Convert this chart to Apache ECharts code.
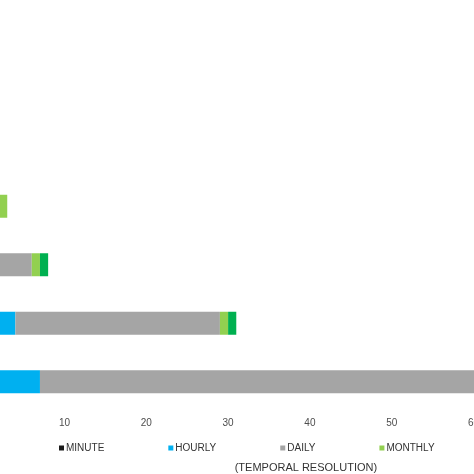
<!DOCTYPE html>
<html>
<head>
<meta charset="utf-8">
<script src="https://cdn.jsdelivr.net/npm/echarts@6/dist/echarts.min.js"></script>
<style>
  html, body { margin: 0; padding: 0; background: #fff; overflow: hidden; width: 474px; height: 474px; }
  /* the reference is a crop: left part of the plot (category names, value 0) is off-screen */
  #main { position: absolute; left: -60px; top: 0; width: 760px; height: 474px; }
</style>
</head>
<body>
<div id="main"></div>
<script>
  // categories, bottom to top (names are outside the visible crop)
  var categories = ['A', 'B', 'C', 'D'];
  var minute  = [0, 0, 0, 0];
  var hourly  = [7, 4, 0, 0];
  var daily   = [60, 25, 6, 2];
  var monthly = [0, 1, 1, 1];
  var yearly  = [0, 1, 1, 0];
  var seriesNames = ['MINUTE', 'HOURLY', 'DAILY', 'MONTHLY', 'YEARLY'];
  var colors = ['#1a1a1a', '#00b0f0', '#a5a5a5', '#92d050', '#00b050'];

  var chart = echarts.init(document.getElementById('main'));

  // 堆叠条形图的一项
  var itemBar = function (name, data) {
    return {
      name: name,
      type: 'bar',
      stack: 'total',
      barWidth: 23,
      data: data
    }
  };

  var option = {
    animation: false,
    color: colors,
    textStyle: { fontFamily: '"Liberation Sans", Arial, sans-serif' },
    grid: {
      left: 42.7,
      right: 62.9,
      top: 177,
      bottom: 63,
      outerBoundsMode: 'none'
    },
    legend: {
      data: seriesNames,
      left: 114,
      top: 438,
      icon: 'rect',
      itemWidth: 5,
      itemHeight: 5,
      itemGap: 64,
      textStyle: { fontSize: 10, color: '#333333', padding: [0, 0, 0, -3] }
    },
    xAxis: {
      type: 'value',
      min: 0,
      max: 80,
      interval: 10,
      name: '(TEMPORAL RESOLUTION)',
      nameLocation: 'middle',
      nameGap: 51,
      nameTextStyle: { fontSize: 11, color: '#333333', padding: [0, 8, 0, 0] },
      axisLine: { show: false },
      axisTick: { show: false },
      splitLine: { show: false },
      axisLabel: { fontSize: 10, color: '#4d4d4d', margin: 7 }
    },
    yAxis: {
      type: 'category',
      data: categories,
      axisLine: { show: false },
      axisTick: { show: false },
      axisLabel: { show: false }
    },
    series: [
      itemBar(seriesNames[0], minute),
      itemBar(seriesNames[1], hourly),
      itemBar(seriesNames[2], daily),
      itemBar(seriesNames[3], monthly),
      itemBar(seriesNames[4], yearly)
    ]
  };
  chart.setOption(option);
</script>
</body>
</html>
